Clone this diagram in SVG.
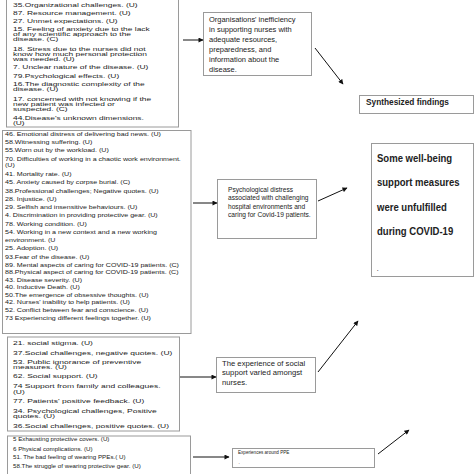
<svg xmlns="http://www.w3.org/2000/svg" width="474" height="474" viewBox="0 0 474 474">
<style>
.box{fill:#fff;stroke:#9a9a9a;stroke-width:1}
.t{font-family:"Liberation Sans",Arial,sans-serif;fill:#222}
.c{stroke:#111;stroke-width:1;fill:none}
</style>
<defs>
<marker id="ah" viewBox="0 0 10 10" refX="9" refY="5" markerWidth="6" markerHeight="5" orient="auto" markerUnits="userSpaceOnUse">
<path d="M0,0 L10,5 L0,10 z" fill="#111"/>
</marker>
</defs>
<rect width="474" height="474" fill="#fff"/>

<g id="list1">
<rect class="box" x="6.5" y="-2" width="172" height="129"/>
<g class="t" font-size="5" transform="translate(13 0) scale(1.68 1)">
<text x="0" y="6.6">35.Organizational challenges. (U)</text>
<text x="0" y="14.6">87. Resource management. (U)</text>
<text x="0" y="22.6">27. Unmet expectations. (U)</text>
<text x="0" y="30.6">15. Feeling of anxiety due to the lack</text>
<text x="0" y="35.6">of any scientific approach to the</text>
<text x="0" y="40.6">disease. (C)</text>
<text x="0" y="50.6">18. Stress due to the nurses did not</text>
<text x="0" y="55.6">know how much personal protection</text>
<text x="0" y="60.6">was needed. (U)</text>
<text x="0" y="68.6">7. Unclear nature of the disease. (U)</text>
<text x="0" y="77.6">79.Psychological effects. (U)</text>
<text x="0" y="85.6">16.The diagnostic complexity of the</text>
<text x="0" y="90.6">disease. (U)</text>
<text x="0" y="100.6">17. concerned with not knowing if the</text>
<text x="0" y="105.6">new patient was infected or</text>
<text x="0" y="110.6">suspected. (C)</text>
<text x="0" y="119.6">44.Disease's unknown dimensions.</text>
<text x="0" y="124.6">(U)</text>
</g>
</g>

<g id="list2">
<rect class="box" x="2.5" y="130.5" width="188.5" height="203"/>
<g class="t" font-size="5" transform="translate(5 0) scale(1.42 1)">
<text x="0" y="136">46. Emotional distress of delivering bad news. (U)</text>
<text x="0" y="144">58.Witnessing suffering. (U)</text>
<text x="0" y="152">55.Worn out by the workload. (U)</text>
<text x="0" y="160.7">70. Difficulties of working in a chaotic work environment.</text>
<text x="0" y="167.4">(U)</text>
<text x="0" y="176">41. Mortality rate. (U)</text>
<text x="0" y="184">45. Anxiety caused by corpse burial. (C)</text>
<text x="0" y="192.7">38.Professional challenges; Negative quotes. (U)</text>
<text x="0" y="200.7">28. Injustice. (U)</text>
<text x="0" y="208.7">29. Selfish and insensitive behaviours. (U)</text>
<text x="0" y="217.4">4. Discrimination in providing protective gear. (U)</text>
<text x="0" y="226">78. Working condition. (U)</text>
<text x="0" y="234.4">54. Working in a new context and a new working</text>
<text x="0" y="242">environment. (U</text>
<text x="0" y="250">25. Adoption. (U)</text>
<text x="0" y="258.7">93.Fear of the disease. (U)</text>
<text x="0" y="266.7">89. Mental aspects of caring for COVID-19 patients. (C)</text>
<text x="0" y="274.4">88.Physical aspect of caring for COVID-19 patients. (C)</text>
<text x="0" y="281.7">43. Disease severity. (U)</text>
<text x="0" y="289">40. Inductive Death. (U)</text>
<text x="0" y="297">50.The emergence of obsessive thoughts. (U)</text>
<text x="0" y="304.4">42. Nurses' inability to help patients. (U)</text>
<text x="0" y="312.4">52. Conflict between fear and conscience. (U)</text>
<text x="0" y="320.4">73 Experiencing different feelings together. (U)</text>
</g>
</g>

<g id="list3">
<rect class="box" x="7.5" y="337" width="172" height="94"/>
<g class="t" font-size="5.2" transform="translate(13 0) scale(1.64 1)">
<text x="0" y="344.6">21. social stigma. (U)</text>
<text x="0" y="354.6">37.Social challenges, negative quotes. (U)</text>
<text x="0" y="363.6">53. Public ignorance of preventive</text>
<text x="0" y="369.2">measures. (U)</text>
<text x="0" y="377.6">62. Social support. (U)</text>
<text x="0" y="387.9">74 Support from family and colleagues.</text>
<text x="0" y="393.6">(U)</text>
<text x="0" y="402.6">77. Patients' positive feedback. (U)</text>
<text x="0" y="412.6">34. Psychological challenges, Positive</text>
<text x="0" y="418.2">quotes. (U)</text>
<text x="0" y="428">36.Social challenges, positive quotes. (U)</text>
</g>
</g>

<g id="list4">
<rect class="box" x="7.5" y="436" width="183" height="45"/>
<g class="t" font-size="4.6" transform="translate(13 0) scale(1.35 1)">
<text x="0" y="440.6">5 Exhausting protective covers. (U)</text>
<text x="0" y="450.6">6 Physical complications. (U)</text>
<text x="0" y="458.9">51. The bad feeling of wearing PPEs.( U)</text>
<text x="0" y="468.3">58.The struggle of wearing protective gear. (U)</text>
</g>
</g>

<g id="org">
<rect class="box" x="203.5" y="12.5" width="108" height="63"/>
<g class="t" font-size="7" transform="translate(209 0) scale(1.07 1)">
<text x="0" y="22.5">Organisations' inefficiency</text>
<text x="0" y="32.5">in supporting nurses with</text>
<text x="0" y="42">adequate resources,</text>
<text x="0" y="52">preparedness, and</text>
<text x="0" y="62.5">information about the</text>
<text x="0" y="72.5">disease.</text>
</g>
</g>

<g id="synth">
<rect class="box" x="359.5" y="95.5" width="114" height="18"/>
<text class="t" x="366" y="104.8" font-size="8.3" font-weight="bold" fill="#111">Synthesized findings</text>
</g>

<g id="psych">
<rect class="box" x="217.5" y="179.5" width="99" height="59"/>
<g class="t" font-size="7.2" transform="translate(228 0) scale(0.92 1)">
<text x="0" y="191.8">Psychological distress</text>
<text x="0" y="200.2">associated with challenging</text>
<text x="0" y="208.6">hospital environments and</text>
<text x="0" y="217.4">caring for Covid-19 patients.</text>
</g>
</g>

<g id="wellbeing">
<rect class="box" x="371.5" y="143.5" width="102" height="133"/>
<g class="t" font-size="11.5" font-weight="bold" fill="#111" transform="translate(377 0) scale(0.83 1)">
<text x="0" y="162.5">Some well-being</text>
<text x="0" y="186">support measures</text>
<text x="0" y="211.5">were unfulfilled</text>
<text x="0" y="235.3">during COVID-19</text>
<text x="0" y="271" font-size="6">.</text>
</g>
</g>

<g id="social">
<rect class="box" x="216.5" y="357.5" width="99" height="35"/>
<g class="t" font-size="7.4" transform="translate(222 0) scale(1.04 1)">
<text x="0" y="366">The experience of social</text>
<text x="0" y="375.3">support varied amongst</text>
<text x="0" y="384.6">nurses.</text>
</g>
</g>

<g id="ppe">
<rect class="box" x="232.5" y="448.5" width="142" height="19"/>
<g class="t" font-size="5" transform="translate(238 0) scale(0.92 1)">
<text x="0" y="454.5">Experiences around PPE</text>
<text x="0.5" y="464">.</text>
</g>
</g>

<g id="connectors">
<line class="c" x1="183" y1="40" x2="203" y2="40" marker-end="url(#ah)"/>
<line class="c" x1="315" y1="48" x2="343" y2="84" marker-end="url(#ah)"/>
<line class="c" x1="193" y1="203" x2="217" y2="203" marker-end="url(#ah)"/>
<line class="c" x1="318" y1="201" x2="347" y2="188" marker-end="url(#ah)"/>
<line class="c" x1="180" y1="377" x2="216" y2="377" marker-end="url(#ah)"/>
<line class="c" x1="318" y1="372" x2="358" y2="321" marker-end="url(#ah)"/>
<line class="c" x1="193" y1="457" x2="229" y2="457" marker-end="url(#ah)"/>
<line class="c" x1="378" y1="454" x2="409" y2="430" marker-end="url(#ah)"/>
</g>
</svg>
